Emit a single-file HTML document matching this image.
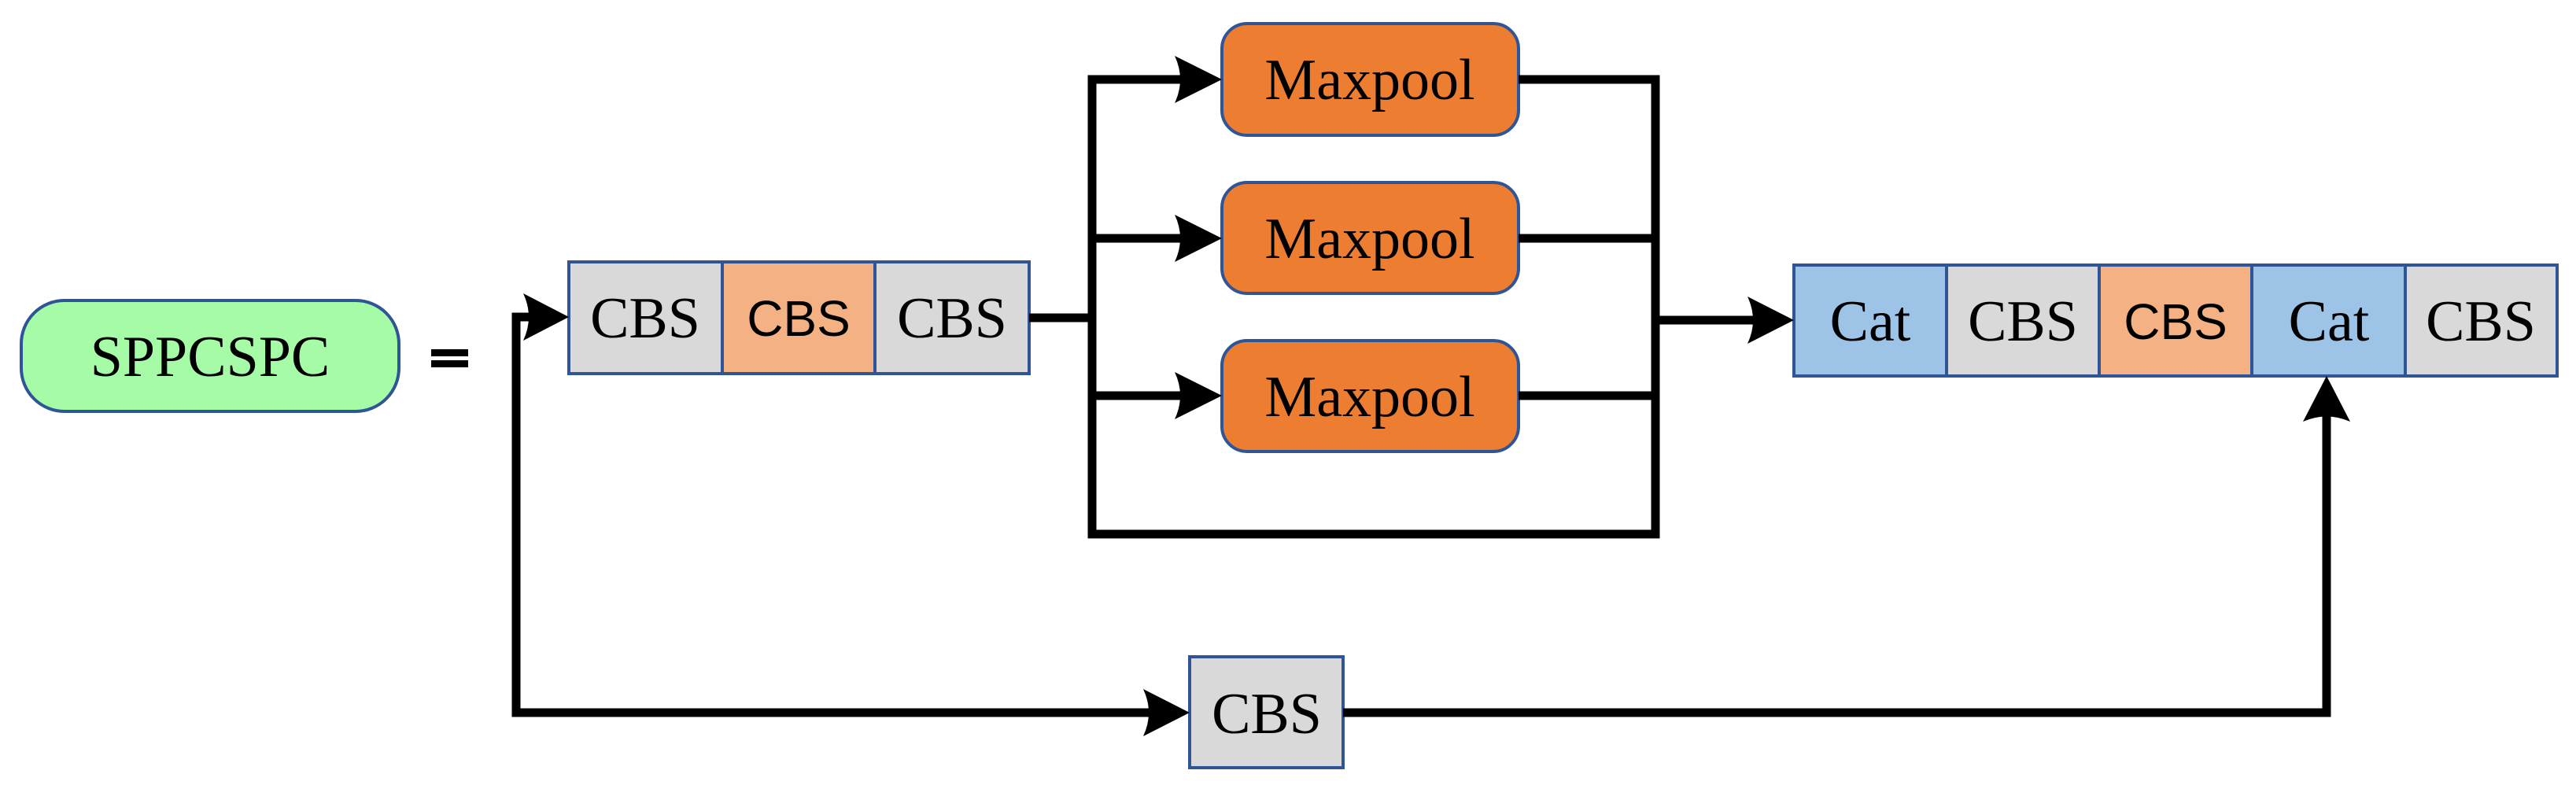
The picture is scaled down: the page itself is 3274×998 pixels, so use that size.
<!DOCTYPE html>
<html><head><meta charset="utf-8"><style>
html,body{margin:0;padding:0;background:#fff;}
svg{display:block;}
text{font-family:"Liberation Serif",serif;font-size:74px;fill:#000;}
.s{font-family:"Liberation Sans Narrow","Liberation Sans",sans-serif;font-size:64px;}
</style></head><body>
<svg width="3274" height="998" viewBox="0 0 3274 998" xmlns="http://www.w3.org/2000/svg">
<g stroke="#2f5597" stroke-width="4">
<rect x="27" y="382" width="480" height="141" rx="55" fill="#a6fca6"/>
<rect x="723" y="333" width="195" height="142" fill="#d9d9d9"/>
<rect x="918" y="333" width="194" height="142" fill="#f4b183"/>
<rect x="1112" y="333" width="196" height="142" fill="#d9d9d9"/>
<rect x="1553" y="30" width="377" height="142" rx="32" fill="#ed7d31"/>
<rect x="1553" y="232" width="377" height="141" rx="32" fill="#ed7d31"/>
<rect x="1553" y="433" width="377" height="141" rx="32" fill="#ed7d31"/>
<rect x="2280" y="337" width="194" height="141" fill="#9dc3e6"/>
<rect x="2474" y="337" width="194" height="141" fill="#d9d9d9"/>
<rect x="2668" y="337" width="194" height="141" fill="#f4b183"/>
<rect x="2862" y="337" width="195" height="141" fill="#9dc3e6"/>
<rect x="3057" y="337" width="193" height="141" fill="#d9d9d9"/>
<rect x="1512" y="835" width="195" height="141" fill="#d9d9d9"/>
</g>
<g stroke="#000" stroke-width="11" fill="none" stroke-linejoin="miter">
<polyline points="1308,404 1388,404"/>
<polyline points="1505,101 1388,101 1388,679 2104,679 2104,101 1930,101"/>
<line x1="1388" y1="303" x2="1505" y2="303"/>
<line x1="1388" y1="503" x2="1505" y2="503"/>
<line x1="1930" y1="303" x2="2104" y2="303"/>
<line x1="1930" y1="503" x2="2104" y2="503"/>
<line x1="2104" y1="407" x2="2235" y2="407"/>
<polyline points="680,403 656,403 656,906 1470,906"/>
<polyline points="1707,906 2957,906 2957,520"/>
</g>
<g fill="#000">
<path d="M1553,101 L1493,71 Q1507,101 1493,131 Z"/>
<path d="M1553,303 L1493,273 Q1507,303 1493,333 Z"/>
<path d="M1553,503 L1493,473 Q1507,503 1493,533 Z"/>
<path d="M2280,407 L2221,377 Q2235,407 2221,437 Z"/>
<path d="M723,403 L665,373 Q679,403 665,433 Z"/>
<path d="M1512,906 L1453,876 Q1467,906 1453,936 Z"/>
<path d="M2957,478 L2927,536 Q2957,523 2987,536 Z"/>
<rect x="548" y="444" width="47" height="9"/>
<rect x="548" y="458" width="47" height="9"/>
</g>
<g text-anchor="middle">
<text x="267" y="478">SPPCSPC</text>
<text x="820" y="429">CBS</text>
<text class="s" x="1015" y="427">CBS</text>
<text x="1210" y="429">CBS</text>
<text x="1741" y="126">Maxpool</text>
<text x="1741" y="328">Maxpool</text>
<text x="1741" y="529">Maxpool</text>
<text x="2377" y="433">Cat</text>
<text x="2571" y="433">CBS</text>
<text class="s" x="2765" y="431">CBS</text>
<text x="2960" y="433">Cat</text>
<text x="3153" y="433">CBS</text>
<text x="1610" y="932">CBS</text>
</g>
</svg>
</body></html>
